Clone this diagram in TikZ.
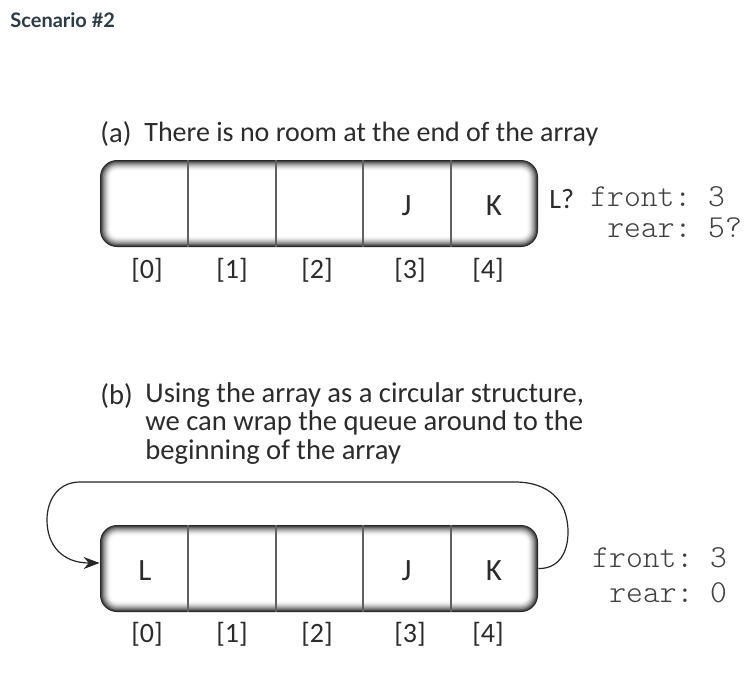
\documentclass[tikz,border=0pt]{standalone}
\usepackage{fontspec}
\setmainfont{Carlito}
\setmonofont{Latin Modern Mono Light}
\newfontfamily\latofont{Lato}
\usetikzlibrary{arrows.meta}
\definecolor{titleink}{HTML}{2D3B45}
\definecolor{figink}{HTML}{2B2B2B}

\tikzset{
  cell/.style={minimum width=43.8pt, minimum height=43.5pt, inner sep=0pt,
    font=\fontsize{15.5}{17}\selectfont, text=figink},
  idx/.style={font=\fontsize{14}{16}\selectfont, text=figink},
  caption/.style={font=\fontsize{14.3}{14.3}\selectfont, text=figink, anchor=west, inner sep=0pt},
  counter/.style={font=\ttfamily\fontsize{16}{18}\selectfont, text=black!75, anchor=west, inner sep=0pt},
  divider/.style={black!62, line width=1pt},
  wrap/.style={black!85, line width=0.6pt, -{Stealth[length=8pt,width=6pt]}}
}

\begin{document}
\begin{tikzpicture}[x=0.5pt, y=-0.5pt]
\useasboundingbox (0,0) rectangle (748,685);
\fill[white] (0,0) rectangle (748,685);

% title
\node[anchor=west, inner sep=0pt, text=titleink, font=\latofont\bfseries\fontsize{10}{12}\selectfont] (title) at (10,20) {Scenario \#2};

% captions
\node[caption] (capa) at (100,134) {(a)};
\node[caption, font=\fontsize{14}{14}\selectfont] (capatext) at (144,134) {There is no room at the end of the array};
\node[caption] (capb) at (100,396) {(b)};
\node[caption, anchor=north west, align=left] (capbtext) at (145,382) {Using the array as a circular structure,\\we can wrap the queue around to the\\beginning of the array};

% shaded array boxes
\foreach \top in {160,525}{
  \foreach \i/\v in {0/85,1/72,2/60,3/48,4/38,5/29,6/21,7/14,8/8,9/4,10/1,11/0}{
    \pgfmathsetmacro\rad{8.5-0.5*\i}
    \fill[black!\v, rounded corners=\rad pt] (100+\i,\top+\i) rectangle (538-\i,\top+87-\i);
  }
}

% cells
\foreach \k in {0,...,4}{
  \node[cell] (a\k) at (143.8+87.6*\k,203.5) {};
  \node[cell] (b\k) at (143.8+87.6*\k,568.5) {};
}
\foreach \k in {0,...,3}{
  \draw[divider] (a\k.north east) -- (a\k.south east);
  \draw[divider] (b\k.north east) -- (b\k.south east);
}

% contents
\node[cell] (ja) at (406.5,206) {J};
\node[cell] (ka) at (494,206) {K};
\node[cell] (lb) at (145,571) {L};
\node[cell] (jb) at (406.5,571) {J};
\node[cell] (kb) at (494,571) {K};

% indices
\foreach \k/\x in {0/147,1/232,2/317,3/410,4/488}{
  \node[idx] (ia\k) at (\x,270) {[\k]};
  \node[idx] (ib\k) at (\x,634) {[\k]};
}

% front / rear
\node[font=\fontsize{14}{16}\selectfont, text=figink, anchor=west, inner sep=0pt] (extra) at (549,199) {L?};
\node[counter] (fronta) at (590,197) {front: 3};
\node[counter] (reara) at (607,228) {rear: 5?};
\node[counter] (frontb) at (592,558) {front: 3};
\node[counter] (rearb) at (609,593) {rear: 0};

% wrap around
\draw[wrap] (b4.east) .. controls (556,569) and (568,556) .. (568,532)
  .. controls (568,500) and (548,482) .. (515,482) -- (80,482)
  .. controls (58,482) and (47,500) .. (47,520)
  .. controls (47,545) and (62,563) .. ([yshift=2.75pt]b0.west);
\end{tikzpicture}
\end{document}
